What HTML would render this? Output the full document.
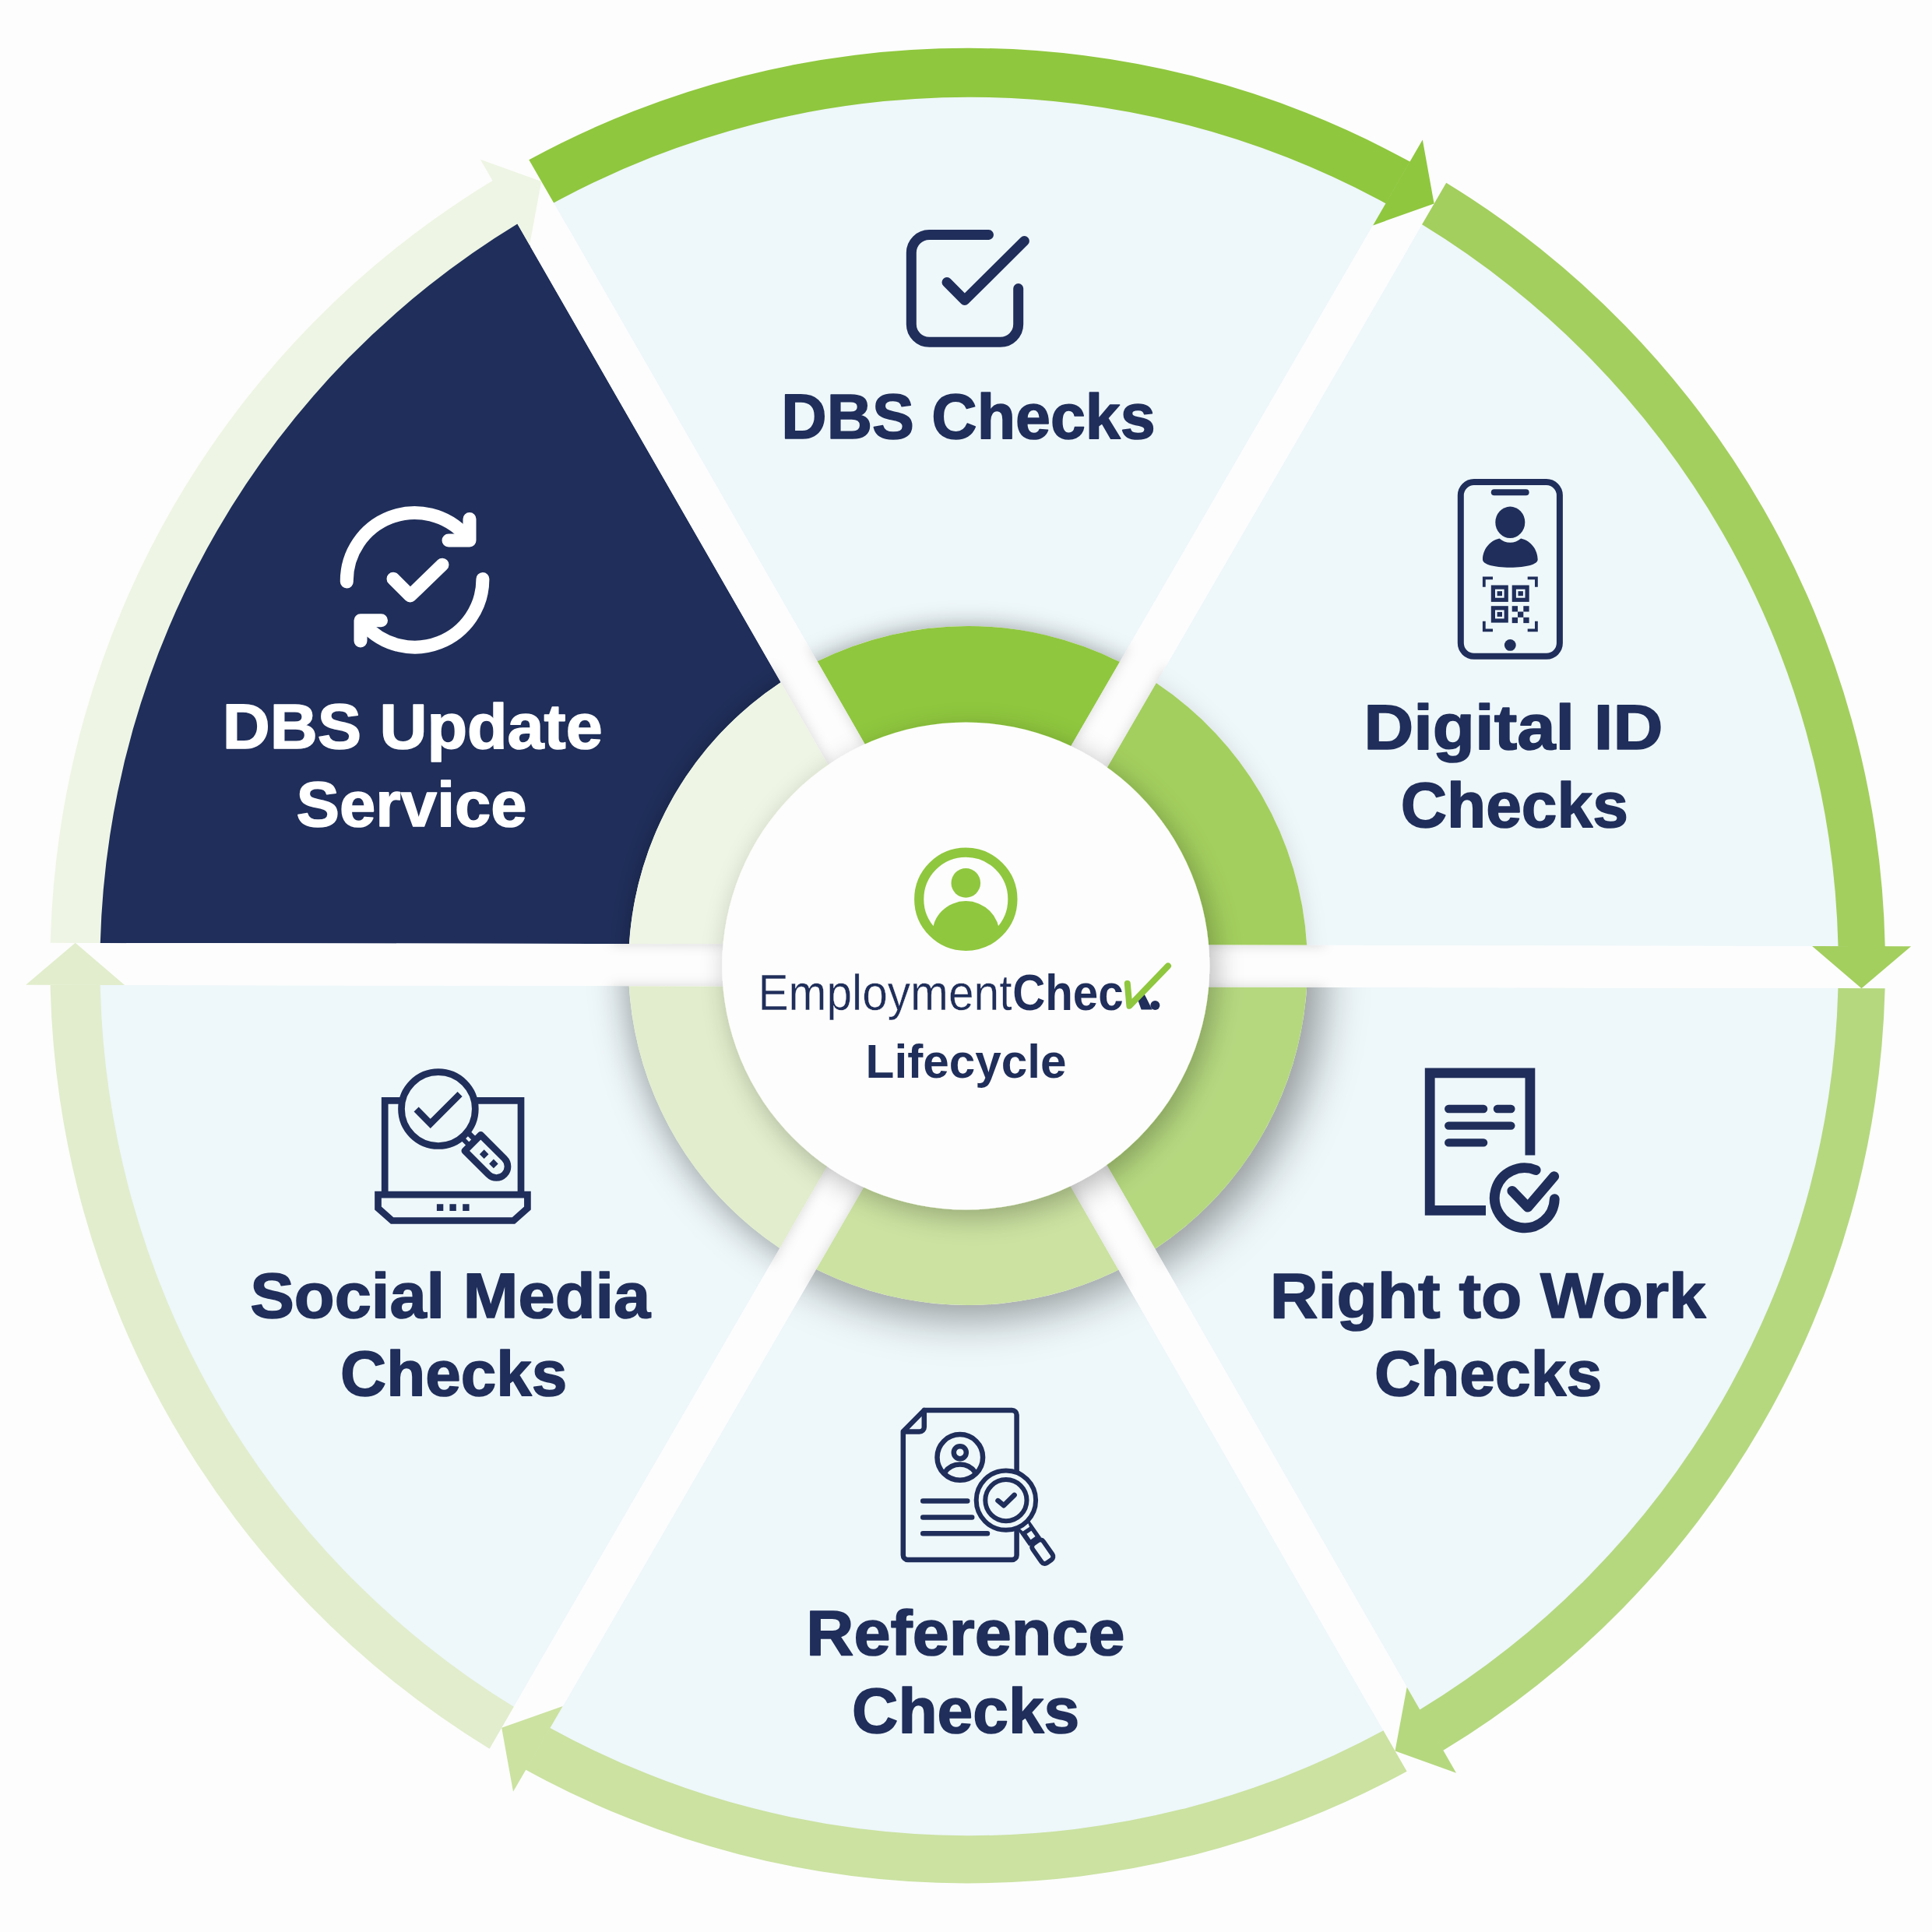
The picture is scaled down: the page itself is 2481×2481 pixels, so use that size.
<!DOCTYPE html>
<html><head><meta charset="utf-8"><title>Lifecycle</title>
<style>html,body{margin:0;padding:0;width:2481px;height:2481px;overflow:hidden;background:#fdfdfd}svg{display:block}text{font-family:"Liberation Sans",sans-serif;font-weight:bold}</style></head><body>
<svg width="2481" height="2481" viewBox="0 0 2481 2481">
<defs>
<filter id="sh1" x="-30%" y="-30%" width="160%" height="160%"><feGaussianBlur in="SourceAlpha" stdDeviation="28"/><feOffset dx="17" dy="17"/><feComponentTransfer><feFuncA type="linear" slope="0.39"/></feComponentTransfer><feMerge><feMergeNode/><feMergeNode in="SourceGraphic"/></feMerge></filter>
<filter id="sh2" x="-30%" y="-30%" width="160%" height="160%"><feGaussianBlur in="SourceAlpha" stdDeviation="18"/><feOffset dx="8" dy="10"/><feComponentTransfer><feFuncA type="linear" slope="0.27"/></feComponentTransfer><feMerge><feMergeNode/><feMergeNode in="SourceGraphic"/></feMerge></filter>
</defs>
<rect width="2481" height="2481" fill="#fdfdfd"/>
<path d="M710.6,259.7 A1117.2,1117.2 0 0 1 1779.9,260.4 L1435.9,853.5 A432,432 0 0 0 1051.5,852.7 Z" fill="#eef7fa"/>
<path d="M1826.6,287.4 A1117.2,1117.2 0 0 1 2361.5,1215.1 L1674.2,1213.8 A432,432 0 0 0 1482.7,880.6 Z" fill="#eef7fa"/>
<path d="M2361.4,1269.1 A1117.2,1117.2 0 0 1 1823.8,2196.3 L1481.3,1600.3 A432,432 0 0 0 1674.1,1267.8 Z" fill="#eef7fa"/>
<path d="M1777.0,2223.2 A1117.2,1117.2 0 0 1 706.0,2219.8 L1050.1,1626.5 A432,432 0 0 0 1434.5,1627.3 Z" fill="#eef7fa"/>
<path d="M659.3,2192.6 A1117.2,1117.2 0 0 1 127.7,1264.9 L811.8,1266.2 A432,432 0 0 0 1003.3,1599.4 Z" fill="#eef7fa"/>
<path d="M127.8,1210.9 A1117.2,1117.2 0 0 1 663.9,286.6 L1004.7,879.7 A432,432 0 0 0 811.9,1212.2 Z" fill="#1f2e5a"/>
<path d="M679.3,205.2 A1178.3,1178.3 0 0 1 1810.5,207.6 L1779.4,261.2 A1116.2,1116.2 0 0 0 711.1,260.5 Z M1826.8,179.5 L1841.6,261.5 L1763.1,289.4 Z" fill="#8fc73e"/>
<path d="M1857.2,234.7 A1178.3,1178.3 0 0 1 2420.7,1215.3 L2360.5,1215.1 A1116.2,1116.2 0 0 0 1826.1,288.3 Z M2454.1,1215.3 L2390.5,1269.2 L2327.1,1215.1 Z" fill="#a3cf5e"/>
<path d="M2420.6,1269.3 A1178.3,1178.3 0 0 1 1853.4,2247.8 L1823.3,2195.5 A1116.2,1116.2 0 0 0 2360.4,1269.1 Z M1870.0,2276.7 L1791.5,2248.5 L1806.7,2166.6 Z" fill="#b5d87f"/>
<path d="M1806.6,2274.7 A1178.3,1178.3 0 0 1 675.3,2272.8 L706.5,2218.9 A1116.2,1116.2 0 0 0 1776.5,2222.3 Z M659.0,2300.8 L644.2,2218.8 L722.7,2190.9 Z" fill="#cbe2a1"/>
<path d="M628.6,2245.7 A1178.3,1178.3 0 0 1 64.6,1264.7 L128.7,1264.9 A1116.2,1116.2 0 0 0 659.8,2191.8 Z M33.1,1264.7 L96.7,1210.8 L160.1,1264.9 Z" fill="#e1edcc"/>
<path d="M64.7,1210.7 A1178.3,1178.3 0 0 1 632.5,232.1 L664.4,287.5 A1116.2,1116.2 0 0 0 128.8,1210.9 Z M616.8,204.7 L695.2,232.9 L680.1,314.8 Z" fill="#eef5e4"/>
<filter id="b0" x="-20%" y="-20%" width="140%" height="140%"><feGaussianBlur stdDeviation="15"/></filter>
<clipPath id="w0"><path d="M710.6,259.7 A1117.2,1117.2 0 0 1 1779.9,260.4 L1435.9,853.5 A432,432 0 0 0 1051.5,852.7 Z"/></clipPath>
<g clip-path="url(#w0)"><circle cx="1243.0" cy="1240.0" r="436" fill="#000" fill-opacity="0.36" filter="url(#b0)"/></g>
<filter id="b1" x="-20%" y="-20%" width="140%" height="140%"><feGaussianBlur stdDeviation="14"/></filter>
<clipPath id="w1"><path d="M1826.6,287.4 A1117.2,1117.2 0 0 1 2361.5,1215.1 L1674.2,1213.8 A432,432 0 0 0 1482.7,880.6 Z"/></clipPath>
<g clip-path="url(#w1)"><circle cx="1243.0" cy="1240.0" r="436" fill="#000" fill-opacity="0.1" filter="url(#b1)"/></g>
<filter id="b2" x="-20%" y="-20%" width="140%" height="140%"><feGaussianBlur stdDeviation="28"/></filter>
<clipPath id="w2"><path d="M2361.4,1269.1 A1117.2,1117.2 0 0 1 1823.8,2196.3 L1481.3,1600.3 A432,432 0 0 0 1674.1,1267.8 Z"/></clipPath>
<g clip-path="url(#w2)"><circle cx="1262.9" cy="1251.5" r="436" fill="#000" fill-opacity="0.39" filter="url(#b2)"/></g>
<filter id="b3" x="-20%" y="-20%" width="140%" height="140%"><feGaussianBlur stdDeviation="28"/></filter>
<clipPath id="w3"><path d="M1777.0,2223.2 A1117.2,1117.2 0 0 1 706.0,2219.8 L1050.1,1626.5 A432,432 0 0 0 1434.5,1627.3 Z"/></clipPath>
<g clip-path="url(#w3)"><circle cx="1243.0" cy="1257.0" r="436" fill="#000" fill-opacity="0.39" filter="url(#b3)"/></g>
<filter id="b4" x="-20%" y="-20%" width="140%" height="140%"><feGaussianBlur stdDeviation="24"/></filter>
<clipPath id="w4"><path d="M659.3,2192.6 A1117.2,1117.2 0 0 1 127.7,1264.9 L811.8,1266.2 A432,432 0 0 0 1003.3,1599.4 Z"/></clipPath>
<g clip-path="url(#w4)"><circle cx="1241.3" cy="1241.0" r="436" fill="#000" fill-opacity="0.4" filter="url(#b4)"/></g>
<filter id="b5" x="-20%" y="-20%" width="140%" height="140%"><feGaussianBlur stdDeviation="14"/></filter>
<clipPath id="w5"><path d="M127.8,1210.9 A1117.2,1117.2 0 0 1 663.9,286.6 L1004.7,879.7 A432,432 0 0 0 811.9,1212.2 Z"/></clipPath>
<g clip-path="url(#w5)"><circle cx="1243.0" cy="1240.0" r="436" fill="#000" fill-opacity="0.22" filter="url(#b5)"/></g>
<circle cx="1243" cy="1240" r="436" fill="#fdfdfd"/>
<path d="M1049.6,849.3 A436,436 0 0 1 1437.9,850.0 L1374.1,960.2 A309,309 0 0 0 1113.0,959.7 Z" fill="#8fc73e"/>
<path d="M1484.7,877.1 A436,436 0 0 1 1678.2,1213.8 L1550.9,1213.6 A309,309 0 0 0 1420.8,987.3 Z" fill="#a3cf5e"/>
<path d="M1678.1,1267.8 A436,436 0 0 1 1483.3,1603.8 L1419.8,1493.4 A309,309 0 0 0 1550.8,1267.6 Z" fill="#b5d87f"/>
<path d="M1436.4,1630.7 A436,436 0 0 1 1048.1,1630.0 L1111.9,1519.8 A309,309 0 0 0 1373.0,1520.3 Z" fill="#cbe2a1"/>
<path d="M1001.3,1602.9 A436,436 0 0 1 807.8,1266.2 L935.1,1266.4 A309,309 0 0 0 1065.2,1492.7 Z" fill="#e1edcc"/>
<path d="M807.9,1212.2 A436,436 0 0 1 1002.7,876.2 L1066.2,986.6 A309,309 0 0 0 935.2,1212.4 Z" fill="#eef5e4"/>
<path d="M1785.3,304.9 L700.7,2175.1" stroke="#fdfdfd" stroke-width="54" fill="none"/>
<path d="M2324.0,1242.1 L162.0,1237.9" stroke="#fdfdfd" stroke-width="54" fill="none"/>
<path d="M1781.7,2177.2 L704.3,302.8" stroke="#fdfdfd" stroke-width="54" fill="none"/>
<clipPath id="stc"><path d="M1761.9,291.3 L1808.7,318.4 L724.1,2188.7 L677.3,2161.6 Z M2324.0,1215.1 L2323.9,1269.1 L162.0,1264.9 L162.1,1210.9 Z M1805.1,2163.8 L1758.3,2190.7 L680.9,316.2 L727.7,289.3 Z"/></clipPath>
<filter id="bs" x="-20%" y="-20%" width="140%" height="140%"><feGaussianBlur stdDeviation="8"/></filter>
<g clip-path="url(#stc)"><g filter="url(#bs)" fill="#000" fill-opacity="0.15">
<path d="M1038.6,830.2 A458,458 0 0 1 1449.0,830.9 L1374.1,960.2 A309,309 0 0 0 1113.0,959.7 Z"/>
<path d="M1495.7,858.0 A458,458 0 0 1 1700.3,1213.9 L1550.9,1213.6 A309,309 0 0 0 1420.8,987.3 Z"/>
<path d="M1700.2,1267.9 A458,458 0 0 1 1494.2,1622.9 L1419.8,1493.4 A309,309 0 0 0 1550.8,1267.6 Z"/>
<path d="M1447.4,1649.8 A458,458 0 0 1 1037.0,1649.1 L1111.9,1519.8 A309,309 0 0 0 1373.0,1520.3 Z"/>
<path d="M990.3,1622.0 A458,458 0 0 1 785.7,1266.1 L935.1,1266.4 A309,309 0 0 0 1065.2,1492.7 Z"/>
<path d="M785.8,1212.1 A458,458 0 0 1 991.8,857.1 L1066.2,986.6 A309,309 0 0 0 935.2,1212.4 Z"/>
</g></g>
<circle cx="1240.3" cy="1240.5" r="313" fill="#fdfdfd" filter="url(#sh2)"/>
<g fill="none" stroke="#1f2e5a" stroke-width="13" stroke-linecap="round" stroke-linejoin="round">
<path d="M1269.5,301.5 H1193.3 A23,23 0 0 0 1170.3,324.5 V416.3 A23,23 0 0 0 1193.3,439.3 H1284.7 A23,23 0 0 0 1307.7,416.3 V370.5"/>
<path d="M1216,362.5 L1238.8,385.5 L1315.4,309.5"/>
</g>
<g fill="none" stroke="#fff" stroke-width="17" stroke-linecap="round" stroke-linejoin="round">
<path d="M445.3,747 A87.3,87.3 0 0 1 598,688"/>
<path d="M603,666.5 V694 H576" fill="#fff"/>
<path d="M619.9,743.5 A87.3,87.3 0 0 1 468,802.5"/>
<path d="M463,823 V796.8 H489.5" fill="#fff"/>
<path d="M505,743.2 L526.8,765 L568,725.2"/>
</g>
<g fill="#1f2e5a" stroke="none">
<rect x="1875.8" y="619.1" width="127.1" height="223.7" rx="17" fill="none" stroke="#1f2e5a" stroke-width="8"/>
<path d="M1918.8,632.3 H1959.6" fill="none" stroke="#1f2e5a" stroke-width="8" stroke-linecap="round"/>
<ellipse cx="1939.3" cy="670.8" rx="19" ry="20.2"/>
<path d="M1925.5,691.6 C1912,694.5 1904,707 1904,718.5 C1904,724.5 1918,728.8 1939.3,728.8 C1960.6,728.8 1974.7,724.5 1974.7,718.5 C1974.7,707 1966.6,694.5 1953.1,691.6 C1949,695.2 1944.5,696.8 1939.3,696.8 C1934.1,696.8 1929.6,695.2 1925.5,691.6 Z"/>
<path d="M1905.8,753.8 V742.3 H1917 M1961.7,742.3 H1972.9 V753.8 M1905.8,797.8 V809.3 H1917 M1961.7,809.3 H1972.9 V797.8" fill="none" stroke="#1f2e5a" stroke-width="3.8"/>
<rect x="1917.4" y="754.1" width="16.8" height="16.2" fill="none" stroke="#1f2e5a" stroke-width="5.2"/>
<rect x="1922.6" y="759.2" width="6.4" height="6" />
<rect x="1944.3" y="754.1" width="16.8" height="16.2" fill="none" stroke="#1f2e5a" stroke-width="5.2"/>
<rect x="1949.5" y="759.2" width="6.4" height="6" />
<rect x="1917.4" y="780.8" width="16.8" height="16.2" fill="none" stroke="#1f2e5a" stroke-width="5.2"/>
<rect x="1922.6" y="785.9" width="6.4" height="6" />
<rect x="1941.7" y="778.2" width="7.3" height="7.3"/>
<rect x="1956.3" y="778.2" width="7.3" height="7.3"/>
<rect x="1949.0" y="785.5" width="7.3" height="7.3"/>
<rect x="1941.7" y="792.8" width="7.3" height="7.3"/>
<rect x="1956.3" y="792.8" width="7.3" height="7.3"/>
<circle cx="1939.3" cy="828.4" r="7.4"/>
</g>
<g fill="none" stroke="#1f2e5a">
<path d="M1908,1554.4 H1836.2 V1377.8 H1964.9 V1483.4" stroke-width="12.8"/>
<path d="M1860.2,1424 H1905.1 M1922.9,1424 H1940.4 M1860.2,1445.6 H1940.4 M1860.2,1467.4 H1905.1" stroke-width="10.3" stroke-linecap="round"/>
<path d="M1972.2,1502.6 A38.5,38.5 0 1 0 1996.3,1539.6" stroke-width="12.8" stroke-linecap="round"/>
<path d="M1941.8,1529.3 L1962,1550.2 L1995.7,1510.7" stroke-width="12.8" stroke-linecap="round" stroke-linejoin="round"/>
</g>
<g fill="none" stroke="#1f2e5a" stroke-width="6.5" stroke-linecap="round" stroke-linejoin="round">
<path d="M1186.8,1811 H1299.6 A6,6 0 0 1 1305.6,1817 V1890 M1305.6,1964 V1996.9 A6,6 0 0 1 1299.6,2002.9 H1165.8 A6,6 0 0 1 1159.8,1996.9 V1838.4 L1186.8,1811 V1832.4 A6,6 0 0 1 1180.8,1838.4 H1159.8"/>
<circle cx="1232.8" cy="1871.4" r="29.3"/>
<circle cx="1232.8" cy="1865.2" r="8"/>
<path d="M1213.4,1890.6 A23.7,23.7 0 0 1 1252.2,1890.6"/>
<path d="M1185.2,1927.6 H1242.3 M1185.2,1948.4 H1248.2 M1185.2,1969.3 H1268"/>
<g transform="translate(1291.9,1926.6) rotate(55)">
<rect x="36" y="-9.6" width="29" height="19.2" fill="#1f2e5a" stroke="none"/>
<path d="M40,-6.4 L45.2,-5.2 L45.2,5.2 L40,6.4 Z" fill="#eef7fa" stroke="none"/>
<rect x="50.6" y="-4.2" width="9" height="7.2" fill="#eef7fa" stroke="none"/>
<rect x="66" y="-9" width="30" height="17" rx="5" fill="#eef7fa" stroke-width="6"/>
</g>
<circle cx="1291.9" cy="1926.6" r="38.2" fill="#eef7fa" stroke-width="6"/>
<circle cx="1291.9" cy="1926.6" r="26.6" stroke-width="6"/>
<path d="M1281.5,1927.1 L1289,1933.3 L1302.6,1919.9"/>
</g>
<g fill="none" stroke="#1f2e5a" stroke-width="8.7">
<path d="M494.2,1530 V1413.3 H669 V1530"/>
<path d="M485.5,1534.2 H677.4 V1551.6 L659.5,1567.5 H503.5 L485.5,1551.6 Z"/>
<path d="M560.9,1550.7 h8.4 M577.4,1550.7 h8.4 M594.2,1550.7 h8.4"/>
<g transform="translate(562.9,1424.1) rotate(45)">
<path d="M48,-0.5 H62" stroke-width="17"/>
<path d="M50,0 H60" stroke-width="4" stroke="#eef7fa"/>
<path d="M62,-15 H105 A14.5,14.5 0 0 1 105,14 H62 Z" fill="#eef7fa" stroke-linejoin="round"/>
<rect x="78.5" y="-4.6" width="8.2" height="8.2" fill="#1f2e5a" stroke="none"/>
<rect x="95.8" y="-4.6" width="8.2" height="8.2" fill="#1f2e5a" stroke="none"/>
</g>
<circle cx="562.9" cy="1424.1" r="47.4" fill="#eef7fa"/>
<path d="M534.6,1424.4 L552.8,1442.9 L590.6,1405" stroke-width="8.6"/>
</g>
<clipPath id="avc"><circle cx="1240.3" cy="1154.8" r="58"/></clipPath>
<circle cx="1240.3" cy="1154.8" r="60.1" fill="none" stroke="#8fc73e" stroke-width="12.2"/>
<circle cx="1240.3" cy="1133.9" r="18.8" fill="#8fc73e"/>
<circle cx="1240.3" cy="1200.6" r="43.5" fill="#8fc73e" clip-path="url(#avc)"/>
<text x="1003.3" y="562.6" font-size="82" textLength="480.4" lengthAdjust="spacingAndGlyphs" fill="#1f2e5a" stroke="#1f2e5a" stroke-width="1.6" stroke-linejoin="round">DBS Checks</text>
<text x="285.7" y="960.6" font-size="82" textLength="488.0" lengthAdjust="spacingAndGlyphs" fill="#ffffff" stroke="#ffffff" stroke-width="1.6" stroke-linejoin="round">DBS Update</text>
<text x="380.5" y="1061.2" font-size="82" textLength="296.1" lengthAdjust="spacingAndGlyphs" fill="#ffffff" stroke="#ffffff" stroke-width="1.6" stroke-linejoin="round">Service</text>
<text x="1751.2" y="961.7" font-size="82" textLength="384.3" lengthAdjust="spacingAndGlyphs" fill="#1f2e5a" stroke="#1f2e5a" stroke-width="1.6" stroke-linejoin="round">Digital ID</text>
<text x="1798.7" y="1062.0" font-size="82" textLength="292.2" lengthAdjust="spacingAndGlyphs" fill="#1f2e5a" stroke="#1f2e5a" stroke-width="1.6" stroke-linejoin="round">Checks</text>
<text x="1630.7" y="1692.0" font-size="82" textLength="560.1" lengthAdjust="spacingAndGlyphs" fill="#1f2e5a" stroke="#1f2e5a" stroke-width="1.6" stroke-linejoin="round">Right to Work</text>
<text x="1764.9" y="1791.9" font-size="82" textLength="292.2" lengthAdjust="spacingAndGlyphs" fill="#1f2e5a" stroke="#1f2e5a" stroke-width="1.6" stroke-linejoin="round">Checks</text>
<text x="1035.3" y="2124.8" font-size="82" textLength="409.2" lengthAdjust="spacingAndGlyphs" fill="#1f2e5a" stroke="#1f2e5a" stroke-width="1.6" stroke-linejoin="round">Reference</text>
<text x="1094.1" y="2224.7" font-size="82" textLength="292.2" lengthAdjust="spacingAndGlyphs" fill="#1f2e5a" stroke="#1f2e5a" stroke-width="1.6" stroke-linejoin="round">Checks</text>
<text x="321.2" y="1691.6" font-size="82" textLength="514.1" lengthAdjust="spacingAndGlyphs" fill="#1f2e5a" stroke="#1f2e5a" stroke-width="1.6" stroke-linejoin="round">Social Media</text>
<text x="437.1" y="1791.6" font-size="82" textLength="291.2" lengthAdjust="spacingAndGlyphs" fill="#1f2e5a" stroke="#1f2e5a" stroke-width="1.6" stroke-linejoin="round">Checks</text>
<text x="973.5" y="1296.8" font-size="65" font-weight="normal" style="font-weight:normal" textLength="326" lengthAdjust="spacingAndGlyphs" fill="#1f2e5a" stroke="#fdfdfd" stroke-width="0.4" paint-order="fill stroke">Employment</text>
<text x="1300.2" y="1296.8" font-size="65" textLength="142.5" lengthAdjust="spacingAndGlyphs" fill="#1f2e5a">Chec</text>
<path d="M1459.5,1279.5 L1467.5,1272.5 L1479.6,1296.6 L1465.6,1296.6 Z" fill="#1f2e5a"/>
<path d="M1447.8,1263 L1450.4,1291.8 L1500,1240.4" fill="none" stroke="#8fc73e" stroke-width="8" stroke-linecap="round" stroke-linejoin="round"/>
<circle cx="1483.4" cy="1291" r="6" fill="#1f2e5a"/>
<text x="1111.6" y="1383.8" font-size="61.5" textLength="258" lengthAdjust="spacingAndGlyphs" fill="#1f2e5a">Lifecycle</text>
</svg></body></html>
